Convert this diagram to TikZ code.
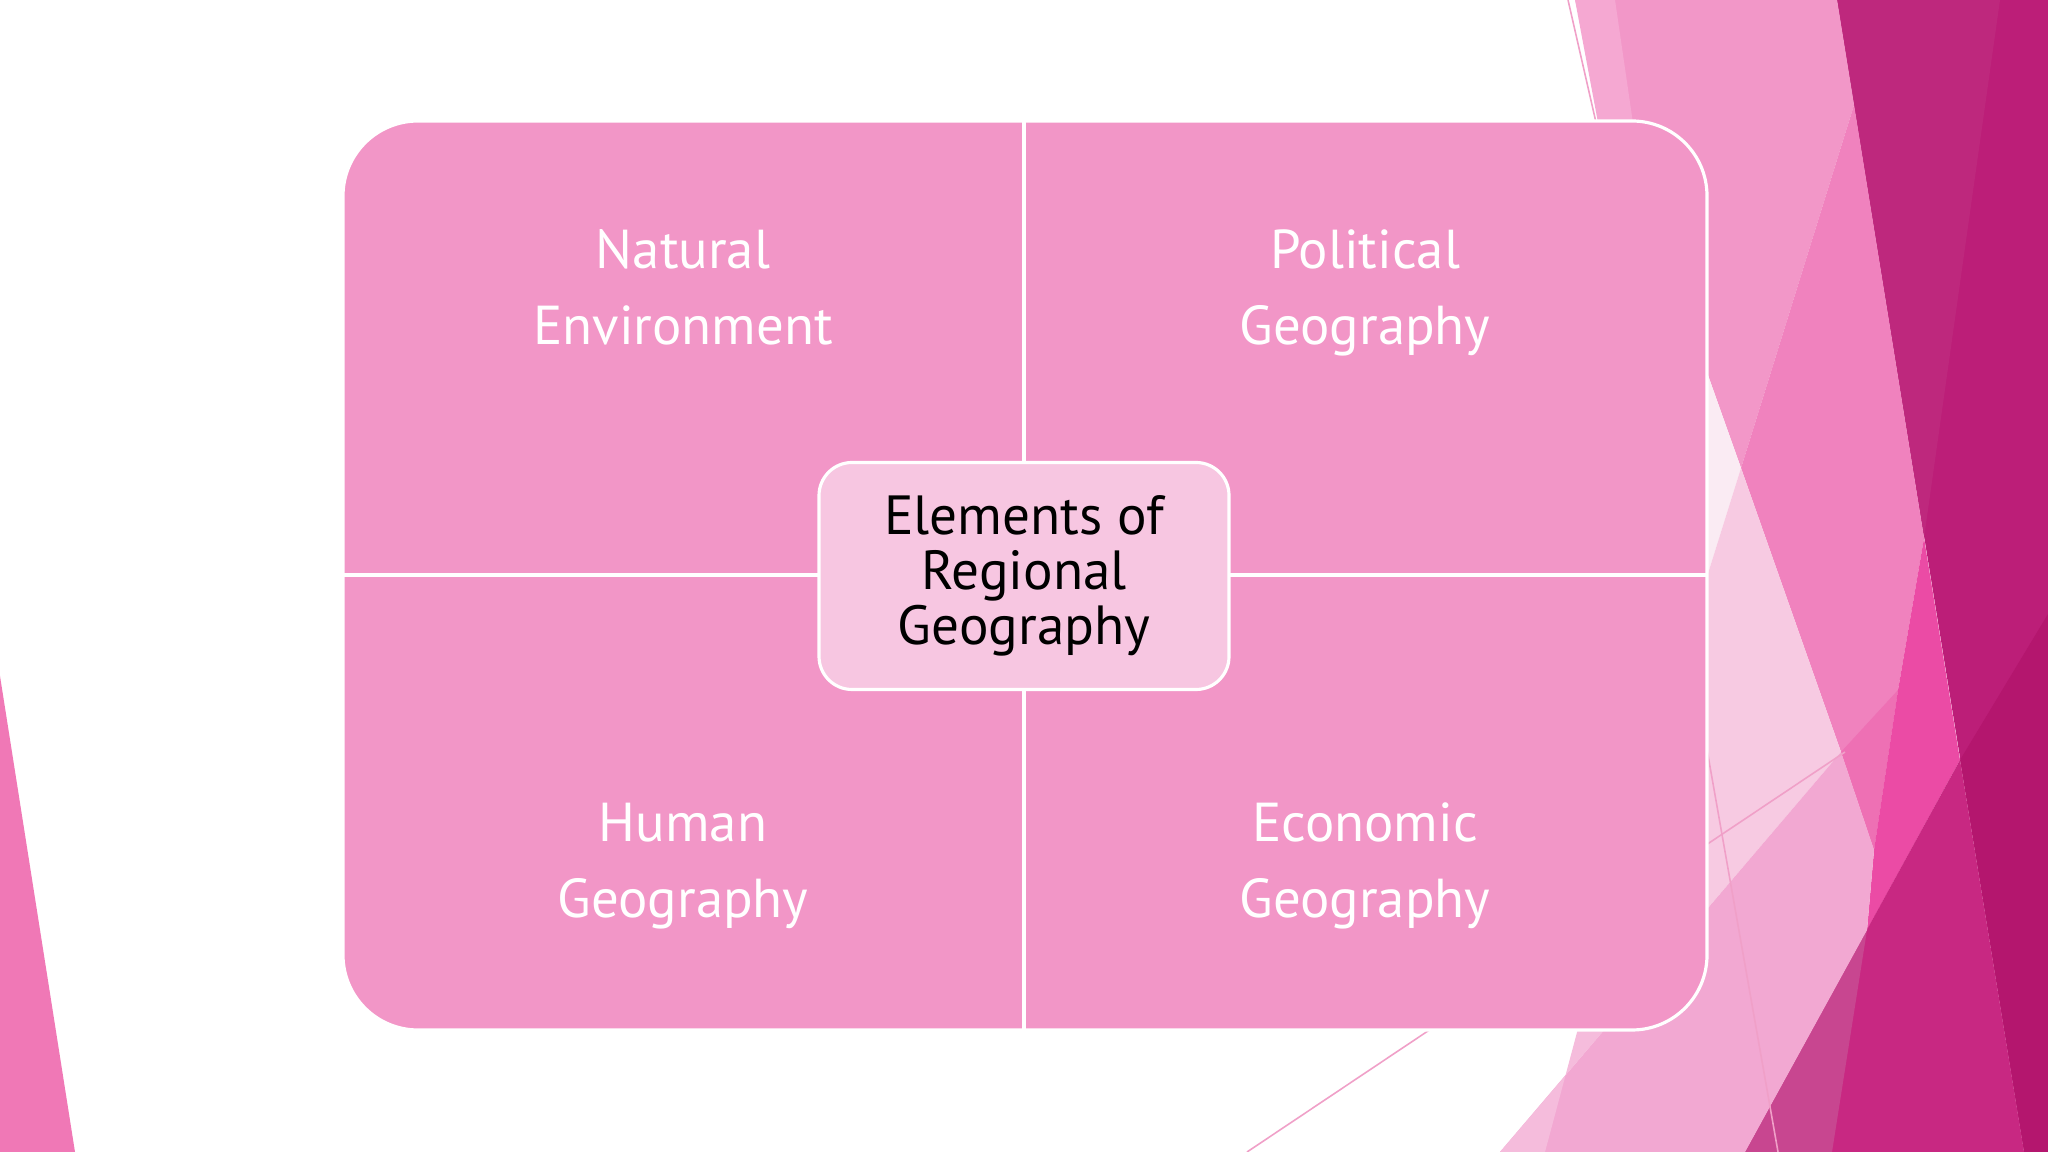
\documentclass[tikz,border=0pt]{standalone}
\usepackage{fontspec}
\setmainfont{PT Sans}
\definecolor{quadfill}{HTML}{F296C7}
\definecolor{corefill}{HTML}{F7C6E1}
\definecolor{lefttri}{HTML}{F078B6}
\definecolor{darkA}{HTML}{BE287D}
\definecolor{darkB}{HTML}{BC1E78}
\definecolor{darkC}{HTML}{B4166E}
\definecolor{magA}{HTML}{C82882}
\definecolor{magB}{HTML}{C84690}
\definecolor{hotpink}{HTML}{EB4BA5}
\definecolor{midB}{HTML}{EE70B4}
\definecolor{midA}{HTML}{F082BE}
\definecolor{pinkA}{HTML}{F297C8}
\definecolor{pinkTop}{HTML}{F5A8D2}
\definecolor{whitish}{HTML}{FAEBF3}
\definecolor{lightA}{HTML}{F7CAE2}
\definecolor{lightB}{HTML}{F2A8D2}
\definecolor{sliver}{HTML}{F5BCDC}
\definecolor{thinline}{HTML}{F0A0C8}
\begin{document}
\begin{tikzpicture}[x=0.1mm,y=-0.1mm,
  thin line/.style={draw=thinline, line width=0.45pt},
  quadline/.style={draw=white, line width=0.9pt},
  quadtext/.style={text=white, font=\fontsize{15.6pt}{21.8pt}\selectfont, align=center, anchor=base, inner sep=0pt},
  corebox/.style={draw=white, line width=0.9pt, fill=corefill, rounded corners=3.3mm, minimum width=41mm, minimum height=22.7mm, inner sep=0pt, align=center, font=\fontsize{15.7pt}{15.6pt}\selectfont, text=black}
]
\useasboundingbox (0,0) rectangle (2048,1152);
\fill[white] (0,0) rectangle (2048,1152);

% left decoration
\fill[lefttri] (0,676) -- (75,1152) -- (0,1152) -- cycle;

% right decoration (layered back to front)
\fill[darkB] (1837,0) -- (2048,0) -- (2048,1152) -- (2024,1152) -- cycle;
\fill[darkA] (1837,0) -- (2000,0) -- (1924,538) -- cycle;
\fill[darkC] (1960,760) -- (2048,614) -- (2048,1152) -- (2024,1152) -- cycle;
\fill[pinkA] (1575,0) -- (1837,0) -- (1854,105) -- (1741,468) -- cycle;
\fill[pinkTop] (1575,0) -- (1615,0) -- (1650,240) -- (1620,240) -- cycle;
\fill[midA] (1854,105) -- (1924,538) -- (1898,690) -- (1874,850) -- (1841,752) -- (1741,468) -- cycle;
\fill[midB] (1898,690) -- (1874,850) -- (1841,752) -- cycle;
\fill[hotpink] (1924,538) -- (1960,760) -- (1867,930) -- (1874,850) -- (1898,690) -- cycle;
\fill[magA] (1960,760) -- (2024,1152) -- (1745,1152) -- cycle;
\fill[magB] (1867,930) -- (1832,1152) -- (1745,1152) -- cycle;
\fill[whitish] (1690,325) -- (1741,468) -- (1690,631) -- cycle;
\fill[lightA] (1741,468) -- (1841,752) -- (1690,929) -- (1690,631) -- cycle;
\fill[lightB] (1500,1152) -- (1841,752) -- (1874,850) -- (1867,930) -- (1745,1152) -- cycle;
\fill[sliver] (1500,1152) -- (1545,1152) -- (1591,980) -- (1647,980) -- cycle;

% thin lines
\draw[thin line] (1568,0) -- (1600,140);
\draw[thin line] (1247,1152) -- (1845,752);
\draw[thin line] (1700,710) -- (1778,1152);

% main quadrant block
\coordinate (tl) at (343,121);
\coordinate (br) at (1707,1030);
\coordinate (topmid) at (1024,121);
\coordinate (botmid) at (1024,1030);
\coordinate (leftmid) at (343,575);
\coordinate (rightmid) at (1707,575);
\filldraw[quadline, fill=quadfill, rounded corners=7.5mm] (tl) rectangle (br);
\draw[quadline] (topmid) -- (botmid);
\draw[quadline] (leftmid) -- (rightmid);

% labels (anchor base = baseline of last line)
\node[quadtext] (nat) at (683,345) {Natural\\Environment};
\node[quadtext] (pol) at (1365,345) {Political\\Geography};
\node[quadtext] (hum) at (683,918) {Human\\Geography};
\node[quadtext] (eco) at (1365,918) {Economic\\Geography};

% center
\node[corebox] (core) at (1024,576) {Elements of\\Regional\\Geography};
\end{tikzpicture}
\end{document}
